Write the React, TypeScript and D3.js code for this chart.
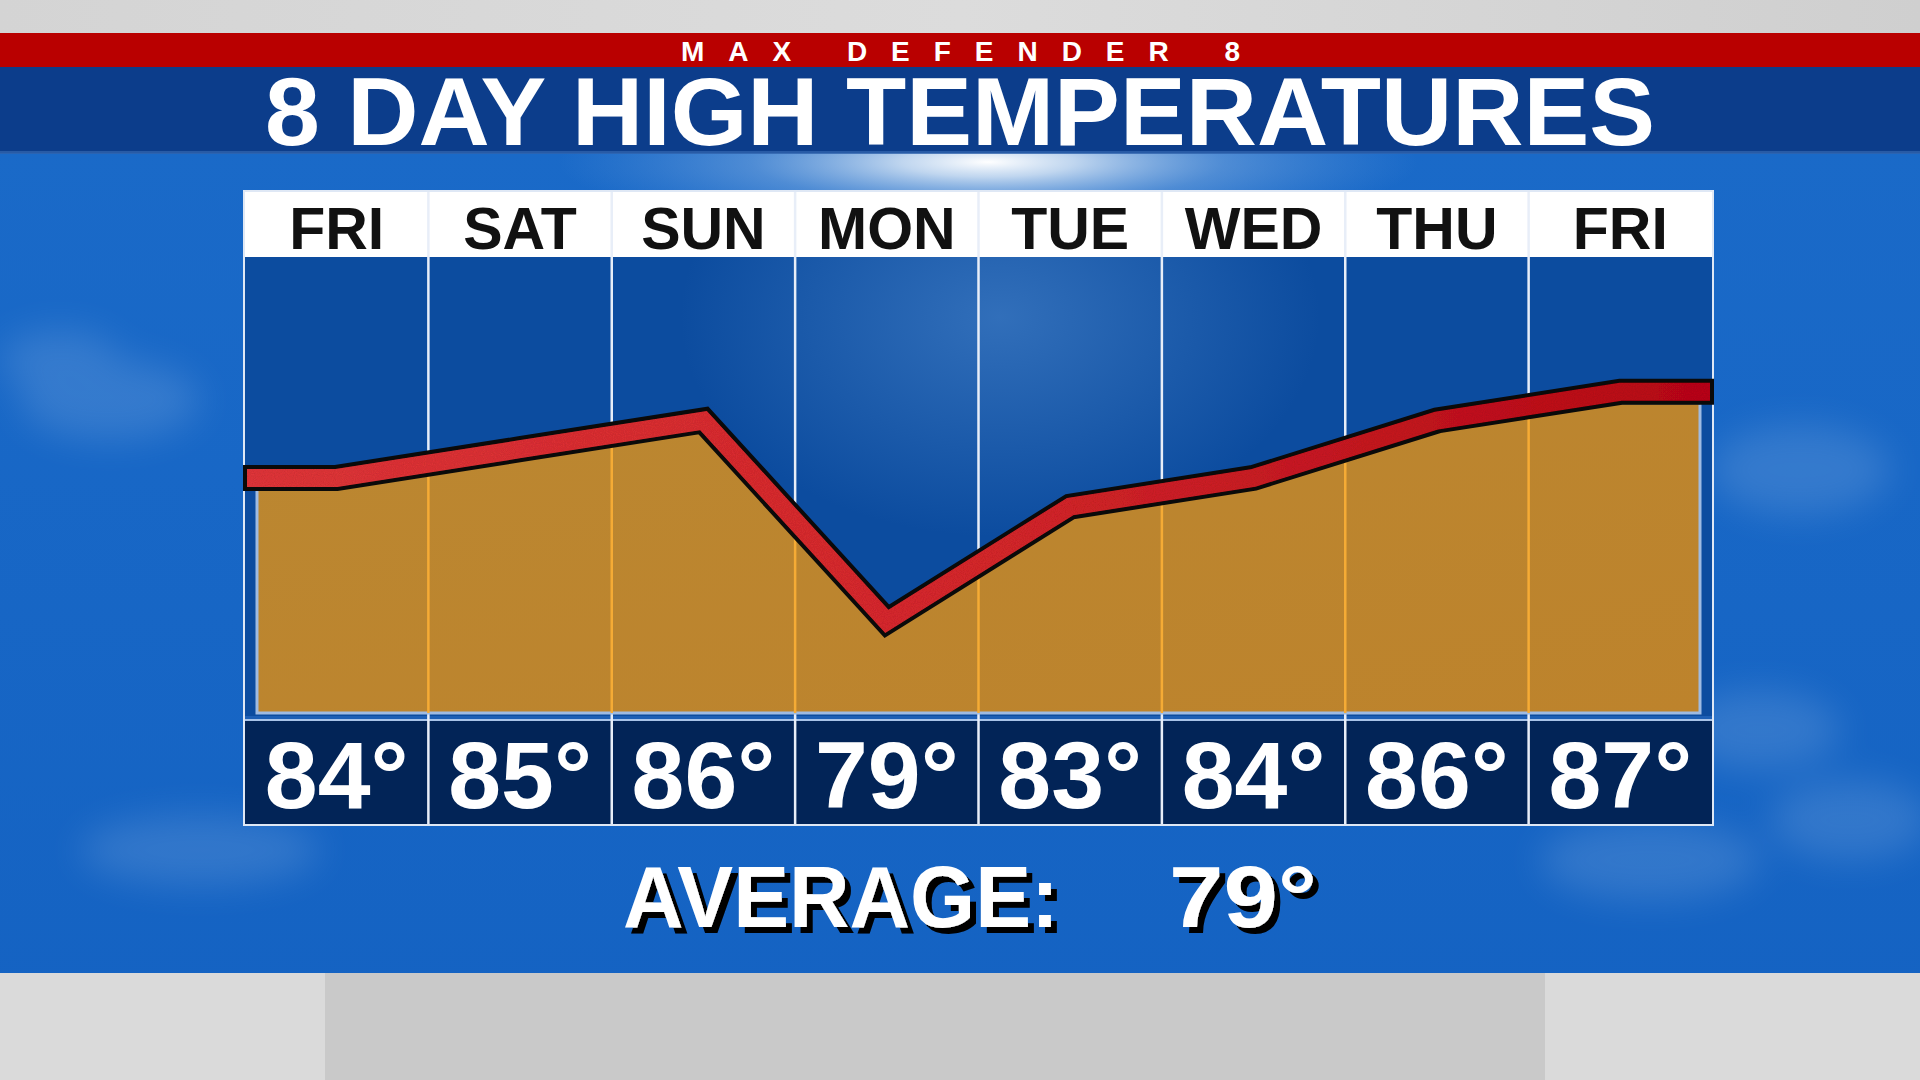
import React from "react";
import * as d3 from "d3";

const days = ["FRI", "SAT", "SUN", "MON", "TUE", "WED", "THU", "FRI"];
const highs = [84, 85, 86, 79, 83, 84, 86, 87];
const averageHigh = 79;
const titleText = "8 DAY HIGH TEMPERATURES";
const brandText = "MAX DEFENDER 8";
const averageLabel = "AVERAGE:";

const clouds = [
  { cx: 110, cy: 400, rx: 90, ry: 40 },
  { cx: 60, cy: 360, rx: 60, ry: 30 },
  { cx: 1800, cy: 470, rx: 90, ry: 45 },
  { cx: 1760, cy: 730, rx: 80, ry: 40 },
  { cx: 1650, cy: 860, rx: 110, ry: 40 },
  { cx: 200, cy: 850, rx: 120, ry: 35 },
  { cx: 1850, cy: 820, rx: 80, ry: 40 },
];

export default function App() {
  const W = 1920;
  const H = 1080;
  const panelL = 245;
  const panelR = 1712;
  const headerTop = 192;
  const headerBot = 257;
  const plotBot = 716;
  const valTop = 720;
  const valBot = 824;
  const font = "'Liberation Sans', Arial, Helvetica, sans-serif";

  const x = d3
    .scaleBand<number>()
    .domain(d3.range(days.length))
    .range([panelL, panelR])
    .paddingInner(0)
    .paddingOuter(0);
  const bw = x.bandwidth();
  const cx = (i: number) => (x(i) as number) + bw / 2;
  const y = d3.scaleLinear().domain([75.7, 91.7]).range([plotBot, headerBot]);

  const n = highs.length;
  const linePts: [number, number][] = [
    [panelL, highs[0]],
    ...highs.map((v, i) => [cx(i), v] as [number, number]),
    [panelR, highs[n - 1]],
  ];
  const lineGen = d3
    .line<[number, number]>()
    .x((d) => d[0])
    .y((d) => y(d[1]));

  const blackPts: [number, number][] = linePts.map((p, i) =>
    i === 0 ? [p[0] - 2, p[1]] : i === linePts.length - 1 ? [p[0] + 2, p[1]] : p
  );
  const redPts: [number, number][] = linePts.map((p, i) =>
    i === 0 ? [p[0] + 2, p[1]] : i === linePts.length - 1 ? [p[0] - 2, p[1]] : p
  );

  const areaL = panelL + 12;
  const areaR = panelR - 12;
  const areaBot = 713;
  const areaPts: [number, number][] = [
    [areaL, highs[0]],
    ...highs.map((v, i) => [cx(i) - 4, v] as [number, number]),
    [areaR, highs[n - 1]],
  ];
  const areaGen = d3
    .area<[number, number]>()
    .x((d) => d[0])
    .y0(areaBot)
    .y1((d) => y(d[1]) + 11);
  const areaTopGen = d3
    .line<[number, number]>()
    .x((d) => d[0])
    .y((d) => y(d[1]) + 11);
  const areaPath = areaGen(areaPts) as string;

  const separators = d3.range(1, n).map((i) => x(i) as number);

  return (
    <div style={{ position: "fixed", left: 0, top: 0, width: W, height: H }}>
      <svg width={W} height={H} viewBox={`0 0 ${W} ${H}`} style={{ display: "block" }}>
        <defs>
          <linearGradient id="sky" x1="0" y1="0" x2="0" y2="1">
            <stop offset="0" stopColor="#1b6bc9" />
            <stop offset="1" stopColor="#1462c2" />
          </linearGradient>
          <radialGradient id="glow" cx="0.5" cy="0.5" r="0.5">
            <stop offset="0" stopColor="#ffffff" stopOpacity="1" />
            <stop offset="0.2" stopColor="#dde9f6" stopOpacity="0.85" />
            <stop offset="0.55" stopColor="#8fb6e4" stopOpacity="0.45" />
            <stop offset="1" stopColor="#6aa0e0" stopOpacity="0" />
          </radialGradient>
          <radialGradient id="plotGlow" cx="0.5" cy="0.5" r="0.5">
            <stop offset="0" stopColor="#4a86cc" stopOpacity="0.6" />
            <stop offset="1" stopColor="#4a86cc" stopOpacity="0" />
          </radialGradient>
          <linearGradient id="topGray" x1="0" y1="0" x2="1" y2="0">
            <stop offset="0" stopColor="#d4d4d4" />
            <stop offset="0.5" stopColor="#dcdcdc" />
            <stop offset="1" stopColor="#cfcfcf" />
          </linearGradient>
          <linearGradient id="redLine" x1={panelL} y1="0" x2={panelR} y2="0" gradientUnits="userSpaceOnUse">
            <stop offset="0" stopColor="#e8393c" />
            <stop offset="0.5" stopColor="#de2a2f" />
            <stop offset="1" stopColor="#c0101a" />
          </linearGradient>
          <linearGradient id="areaFill" x1="0" y1="0" x2="1" y2="1">
            <stop offset="0" stopColor="#bb8731" />
            <stop offset="1" stopColor="#bd832c" />
          </linearGradient>
          <filter id="blur" x="-50%" y="-50%" width="200%" height="200%">
            <feGaussianBlur stdDeviation="18" />
          </filter>
          <filter id="shadow" x="-5%" y="-20%" width="110%" height="140%">
            <feOffset in="SourceAlpha" dx="6" dy="6" result="off" />
            <feFlood floodColor="#000000" />
            <feComposite in2="off" operator="in" result="sh" />
            <feMerge>
              <feMergeNode in="sh" />
              <feMergeNode in="SourceGraphic" />
            </feMerge>
          </filter>
          <filter id="speckle" x="-5%" y="-50%" width="110%" height="200%">
            <feTurbulence type="fractalNoise" baseFrequency="0.9" numOctaves="1" result="noise" />
            <feColorMatrix
              in="noise"
              type="matrix"
              values="0 0 0 0 0  0 0 0 0 0  0 0 0 0 0  0 0 0 0.3 0"
              result="dark"
            />
            <feComposite in="dark" in2="SourceGraphic" operator="in" result="spk" />
            <feMerge>
              <feMergeNode in="SourceGraphic" />
              <feMergeNode in="spk" />
            </feMerge>
          </filter>
          <clipPath id="areaClip">
            <path d={areaPath} />
          </clipPath>
          <clipPath id="plotClip">
            <rect x={panelL} y={headerBot} width={panelR - panelL} height={plotBot - headerBot} />
          </clipPath>
          <clipPath id="stripClip">
            <rect x={0} y={153} width={W} height={40} />
          </clipPath>
        </defs>

        {/* background */}
        <rect x={0} y={0} width={W} height={H} fill="url(#sky)" />
        <g filter="url(#blur)" opacity={0.12}>
          {clouds.map((c, i) => (
            <ellipse key={i} cx={c.cx} cy={c.cy} rx={c.rx} ry={c.ry} fill="#ffffff" />
          ))}
        </g>
        <g clipPath="url(#stripClip)">
          <ellipse cx={988} cy={162} rx={430} ry={75} fill="url(#glow)" />
        </g>

        {/* top gray */}
        <rect x={0} y={0} width={W} height={33} fill="url(#topGray)" />
        {/* bottom gray */}
        <rect x={0} y={973} width={W} height={H - 973} fill="#dadada" />
        <rect x={325} y={973} width={1220} height={H - 973} fill="#c9c9c9" />

        {/* red band */}
        <rect x={0} y={33} width={W} height={34} fill="#b90000" />
        <text
          x={681}
          y={61}
          fontFamily={font}
          fontWeight={700}
          fontSize={28}
          fill="#ffffff"
          textLength={559}
          lengthAdjust="spacing"
        >
          {brandText}
        </text>
        {/* title band */}
        <rect x={0} y={67} width={W} height={86} fill="#0c3d8b" />
        <rect x={0} y={151} width={W} height={3} fill="#2f63ad" opacity={0.8} />
        <text
          x={W / 2}
          y={145}
          textAnchor="middle"
          fontFamily={font}
          fontWeight={700}
          fontSize={96}
          fill="#ffffff"
          textLength={1390}
          lengthAdjust="spacingAndGlyphs"
        >
          {titleText}
        </text>

        {/* panel */}
        <rect x={panelL - 2} y={headerTop - 2} width={panelR - panelL + 4} height={valBot - headerTop + 4} fill="#dfe8f5" />
        <rect x={panelL} y={headerTop} width={panelR - panelL} height={headerBot - headerTop} fill="#ffffff" />
        <rect x={panelL} y={headerBot} width={panelR - panelL} height={valTop - headerBot} fill="#0c4c9f" />
        <g clipPath="url(#plotClip)">
          <ellipse cx={1000} cy={headerBot + 60} rx={320} ry={220} fill="url(#plotGlow)" />
        </g>
        <rect x={panelL} y={valTop} width={panelR - panelL} height={valBot - valTop} fill="#022457" />
        <rect x={panelL} y={plotBot} width={panelR - panelL} height={valTop - plotBot} fill="#1d5fb5" />
        <line x1={panelL} x2={panelR} y1={valTop} y2={valTop} stroke="#a8c3e8" strokeWidth={2} />

        {/* separators */}
        {separators.map((sx, i) => (
          <line key={i} x1={sx} x2={sx} y1={headerTop} y2={valBot} stroke="#e8eef8" strokeWidth={2.5} />
        ))}

        {/* area */}
        <path d={areaPath} fill="url(#areaFill)" stroke="#9fbbe2" strokeWidth={3} />
        <g clipPath="url(#areaClip)">
          {separators.map((sx, i) => (
            <line key={i} x1={sx} x2={sx} y1={headerBot} y2={areaBot} stroke="#f5ab35" strokeWidth={2.5} />
          ))}
        </g>
        <path d={areaTopGen(areaPts) as string} fill="none" stroke="#3a3a3a" strokeWidth={3} />

        {/* temperature line */}
        <path
          d={lineGen(blackPts) as string}
          fill="none"
          stroke="#0a0a0a"
          strokeWidth={26}
          strokeLinejoin="miter"
          strokeLinecap="butt"
        />
        <path
          d={lineGen(redPts) as string}
          fill="none"
          stroke="url(#redLine)"
          strokeWidth={18}
          strokeLinejoin="miter"
          strokeLinecap="butt"
          filter="url(#speckle)"
        />

        {/* day labels */}
        {days.map((d, i) => (
          <text
            key={i}
            x={cx(i)}
            y={249}
            textAnchor="middle"
            fontFamily={font}
            fontWeight={700}
            fontSize={59}
            fill="#111111"
          >
            {d}
          </text>
        ))}

        {/* values */}
        {highs.map((v, i) => (
          <text
            key={i}
            x={cx(i)}
            y={808}
            textAnchor="middle"
            fontFamily={font}
            fontWeight={700}
            fontSize={95}
            fill="#ffffff"
          >
            {`${v}°`}
          </text>
        ))}

        {/* average */}
        <g filter="url(#shadow)">
          <text
            x={623}
            y={927}
            fontFamily={font}
            fontWeight={700}
            fontSize={88}
            fill="#ffffff"
            textLength={436}
            lengthAdjust="spacingAndGlyphs"
          >
            {averageLabel}
          </text>
          <text
            x={1169}
            y={927}
            fontFamily={font}
            fontWeight={700}
            fontSize={88}
            fill="#ffffff"
            textLength={148}
            lengthAdjust="spacingAndGlyphs"
          >
            {`${averageHigh}°`}
          </text>
        </g>
      </svg>
    </div>
  );
}
